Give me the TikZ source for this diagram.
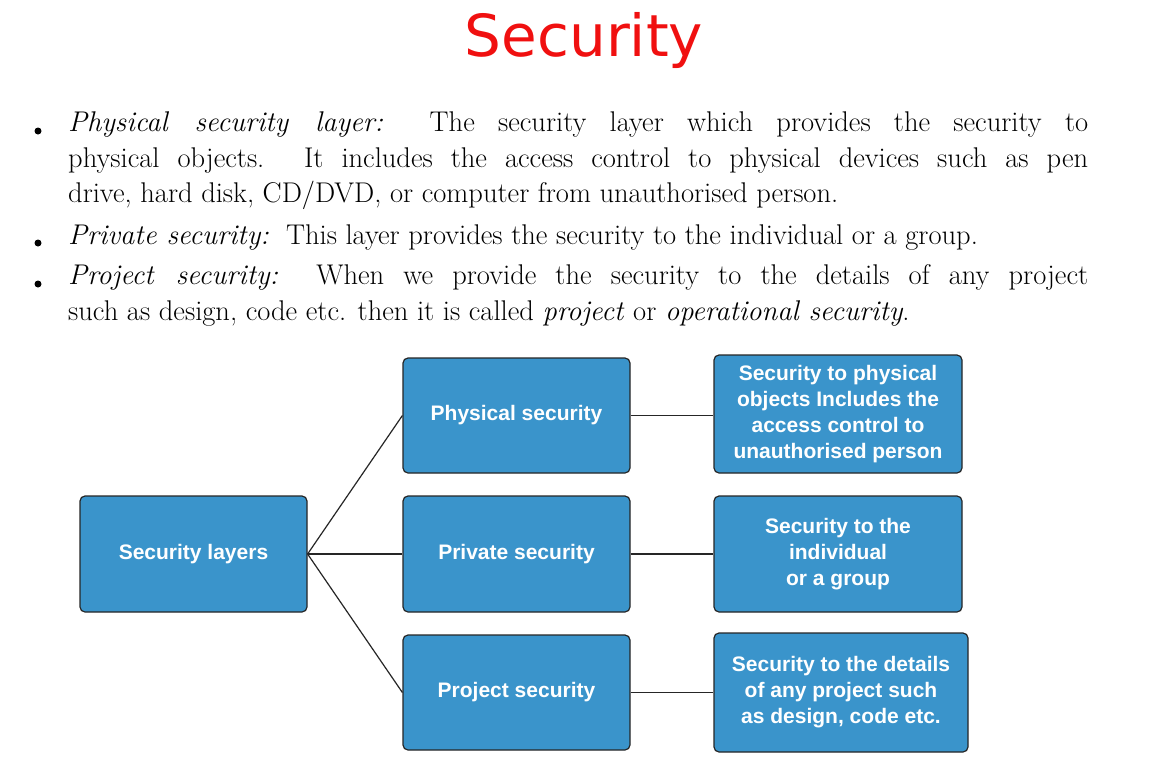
\documentclass[tikz,border=0pt]{standalone}
\usepackage{fontspec}
\newfontfamily\boxfont{Liberation Sans}
\newfontfamily\titlefont{DejaVu Sans}
\definecolor{boxblue}{HTML}{3A94CB}
\definecolor{titlered}{HTML}{F01010}
\begin{document}
\begin{tikzpicture}[x=1pt,y=-1pt,
  blk/.style={draw=black!85,line width=1.2pt,fill=boxblue,rounded corners=5pt,
    text=white,font=\boxfont\bfseries\fontsize{21}{26}\selectfont,align=center,inner sep=2pt},
  link/.style={draw=black!85,line width=1.2pt}]
\useasboundingbox (0,0) rectangle (1171,772);
\fill[white] (0,0) rectangle (1171,772);
\node[font=\titlefont\fontsize{58}{60}\selectfont,text=titlered] (title) at (584,40) {Security};
\node[anchor=north west,text width=1020pt,align=justify,inner sep=0pt,
  font=\fontsize{28.5}{35.5}\selectfont\addfontfeatures{FakeStretch=1.1}] (txt) at (68,112) {%
\textit{Physical security layer:}\ \ The security layer which provides the security to\linebreak
physical objects. It includes the access control to physical devices such as pen\linebreak
drive, hard disk, CD/DVD, or computer from unauthorised person.\\[6pt]
\textit{Private security:}\ \ This layer provides the security to the individual or a group.\\[5pt]
\textit{Project security:}\ \ When we provide the security to the details of any project\linebreak
such as design, code etc. then it is called \textit{project} or \textit{operational security}.};
\foreach \yy in {131,243,284} \fill (38,\yy) circle (3.5pt);
\node[blk,minimum width=227pt,minimum height=116pt] (sl) at (193.5,554) {Security layers};
\node[blk,minimum width=227pt,minimum height=115pt] (ph) at (516.5,415.5) {Physical security};
\node[blk,minimum width=227pt,minimum height=116pt] (pr) at (516.5,554) {Private security};
\node[blk,minimum width=227pt,minimum height=115pt] (pj) at (516.5,692.5) {Project security};
\node[blk,minimum width=248pt,minimum height=118pt] (r1) at (838,414) {Security to physical\\objects Includes the\\access control to\\unauthorised person};
\node[blk,minimum width=248pt,minimum height=116pt] (r2) at (838,554) {Security to the\\individual\\or a group};
\node[blk,minimum width=254pt,minimum height=119pt] (r3) at (841,692.5) {Security to the details\\of any project such\\as design, code etc.};
\draw[link] (sl.east) -- (ph.west);
\draw[link] (sl.east) -- (pr.west);
\draw[link] (sl.east) -- (pj.west);
\draw[link] (ph.east) -- (ph.east -| r1.west);
\draw[link] (pr.east) -- (r2.west);
\draw[link] (pj.east) -- (pj.east -| r3.west);
\end{tikzpicture}
\end{document}
